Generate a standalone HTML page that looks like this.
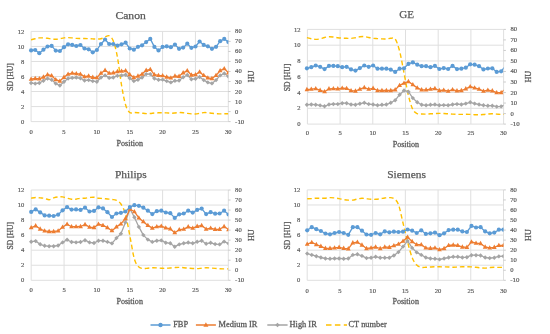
<!DOCTYPE html>
<html><head><meta charset="utf-8"><title>SD and CT number profiles</title>
<style>
html,body{margin:0;padding:0;background:#fff;}
body{width:550px;height:334px;overflow:hidden;}
svg{display:block;}
</style></head><body>
<svg width="550" height="334" viewBox="0 0 550 334">
<rect width="550" height="334" fill="#fff"/>
<clipPath id="c0"><rect x="28.1" y="27.4" width="200.2" height="98.2"/></clipPath>
<path d="M31.1,106.57H228.3M31.1,91.53H228.3M31.1,76.5H228.3M31.1,61.47H228.3M31.1,46.43H228.3M31.1,31.4H228.3M31.1,31.4V121.6M63.97,31.4V121.6M96.83,31.4V121.6M129.7,31.4V121.6M162.57,31.4V121.6M195.43,31.4V121.6M228.3,31.4V121.6" stroke="#DFDFDF" stroke-width="1" fill="none"/>
<path d="M31.1,121.6H228.3" stroke="#DFDFDF" stroke-width="1" fill="none"/>
<path d="M228.3,31.4h2.3M228.3,41.42h2.3M228.3,51.44h2.3M228.3,61.47h2.3M228.3,71.49h2.3M228.3,81.51h2.3M228.3,91.53h2.3M228.3,101.56h2.3M228.3,111.58h2.3M228.3,121.6h2.3" stroke="#BFBFBF" stroke-width="0.8" fill="none"/>
<g font-family="'Liberation Serif', 'DejaVu Serif', serif" font-size="7.1" fill="#595959" stroke="#595959" stroke-width="0.2">
<text x="24.3" y="123.7" text-anchor="end" textLength="3.3" lengthAdjust="spacingAndGlyphs">0</text>
<text x="24.3" y="108.67" text-anchor="end" textLength="3.3" lengthAdjust="spacingAndGlyphs">2</text>
<text x="24.3" y="93.63" text-anchor="end" textLength="3.3" lengthAdjust="spacingAndGlyphs">4</text>
<text x="24.3" y="78.6" text-anchor="end" textLength="3.3" lengthAdjust="spacingAndGlyphs">6</text>
<text x="24.3" y="63.57" text-anchor="end" textLength="3.3" lengthAdjust="spacingAndGlyphs">8</text>
<text x="24.3" y="48.53" text-anchor="end" textLength="6.6" lengthAdjust="spacingAndGlyphs">10</text>
<text x="24.3" y="33.5" text-anchor="end" textLength="6.6" lengthAdjust="spacingAndGlyphs">12</text>
<text x="235.1" y="33.4" textLength="6.6" lengthAdjust="spacingAndGlyphs">80</text>
<text x="235.1" y="43.42" textLength="6.6" lengthAdjust="spacingAndGlyphs">70</text>
<text x="235.1" y="53.44" textLength="6.6" lengthAdjust="spacingAndGlyphs">60</text>
<text x="235.1" y="63.47" textLength="6.6" lengthAdjust="spacingAndGlyphs">50</text>
<text x="235.1" y="73.49" textLength="6.6" lengthAdjust="spacingAndGlyphs">40</text>
<text x="235.1" y="83.51" textLength="6.6" lengthAdjust="spacingAndGlyphs">30</text>
<text x="235.1" y="93.53" textLength="6.6" lengthAdjust="spacingAndGlyphs">20</text>
<text x="235.1" y="103.56" textLength="6.6" lengthAdjust="spacingAndGlyphs">10</text>
<text x="235.1" y="113.58" textLength="3.3" lengthAdjust="spacingAndGlyphs">0</text>
<text x="235.1" y="123.6" textLength="9.2" lengthAdjust="spacingAndGlyphs">-10</text>
<text x="31.1" y="133.6" text-anchor="middle" textLength="3.3" lengthAdjust="spacingAndGlyphs">0</text>
<text x="63.97" y="133.6" text-anchor="middle" textLength="3.3" lengthAdjust="spacingAndGlyphs">5</text>
<text x="96.83" y="133.6" text-anchor="middle" textLength="6.6" lengthAdjust="spacingAndGlyphs">10</text>
<text x="129.7" y="133.6" text-anchor="middle" textLength="6.6" lengthAdjust="spacingAndGlyphs">15</text>
<text x="162.57" y="133.6" text-anchor="middle" textLength="6.6" lengthAdjust="spacingAndGlyphs">20</text>
<text x="195.43" y="133.6" text-anchor="middle" textLength="6.6" lengthAdjust="spacingAndGlyphs">25</text>
<text x="228.3" y="133.6" text-anchor="middle" textLength="6.6" lengthAdjust="spacingAndGlyphs">30</text>
</g>
<g font-family="'Liberation Serif', 'DejaVu Serif', serif" font-size="8.1" fill="#595959" stroke="#595959" stroke-width="0.28">
<text x="129.8" y="146" text-anchor="middle">Position</text>
<text transform="translate(10.3,76.5) rotate(-90)" x="-14.3" y="3.0" font-size="7.6" textLength="27.6" lengthAdjust="spacingAndGlyphs">SD [HU]</text>
<text transform="translate(251.6,76.5) rotate(-90)" x="0" y="2.8" text-anchor="middle">HU</text>
</g>
<text x="115.45" y="19.1" font-family="'Liberation Serif', 'DejaVu Serif', serif" font-size="11.2" fill="#595959" stroke="#595959" stroke-width="0.25" textLength="30.3" lengthAdjust="spacingAndGlyphs">Canon</text>
<g clip-path="url(#c0)">
<path d="M31.1,39.8C31.79,39.62 33.84,39.02 35.21,38.7C36.58,38.38 37.95,38.03 39.32,37.9C40.69,37.77 42.06,37.83 43.43,37.9C44.8,37.97 46.17,38.13 47.54,38.3C48.91,38.47 50.28,38.73 51.65,38.9C53.02,39.07 54.39,39.33 55.76,39.3C57.13,39.27 58.5,38.93 59.87,38.7C61.24,38.47 62.61,38.08 63.98,37.9C65.35,37.72 66.72,37.6 68.09,37.6C69.46,37.6 70.83,37.77 72.2,37.9C73.57,38.03 74.94,38.3 76.31,38.4C77.68,38.5 79.05,38.48 80.42,38.5C81.79,38.52 83.16,38.47 84.53,38.5C85.9,38.53 87.27,38.63 88.64,38.7C90.01,38.77 91.38,38.85 92.75,38.9C94.12,38.95 95.49,39.03 96.86,39C98.23,38.97 99.6,39.03 100.97,38.7C102.34,38.37 103.71,37.48 105.08,37C106.45,36.52 107.82,35.13 109.19,35.8C110.56,36.47 111.93,37.47 113.3,41C114.67,44.53 116.04,49.67 117.41,57C118.78,64.33 120.15,77 121.52,85C122.89,93 124.26,100.42 125.63,105C127,109.58 128.37,111.25 129.74,112.5C131.11,113.75 132.48,112.47 133.85,112.5C135.22,112.53 136.59,112.58 137.96,112.7C139.33,112.82 140.7,113.05 142.07,113.2C143.44,113.35 144.81,113.55 146.18,113.6C147.55,113.65 148.92,113.6 150.29,113.5C151.66,113.4 153.03,113.12 154.4,113C155.77,112.88 157.14,112.85 158.51,112.8C159.88,112.75 161.25,112.68 162.62,112.7C163.99,112.72 165.36,112.82 166.73,112.9C168.1,112.98 169.47,113.18 170.84,113.2C172.21,113.22 173.58,113.1 174.95,113C176.32,112.9 177.69,112.65 179.06,112.6C180.43,112.55 181.8,112.57 183.17,112.7C184.54,112.83 185.91,113.2 187.28,113.4C188.65,113.6 190.02,113.8 191.39,113.9C192.76,114 194.13,114.1 195.5,114C196.87,113.9 198.24,113.53 199.61,113.3C200.98,113.07 202.35,112.7 203.72,112.6C205.09,112.5 206.46,112.58 207.83,112.7C209.2,112.82 210.57,113.15 211.94,113.3C213.31,113.45 214.68,113.5 216.05,113.6C217.42,113.7 218.79,113.88 220.16,113.9C221.53,113.92 222.9,113.72 224.27,113.7C225.64,113.68 227.7,113.78 228.38,113.8" stroke="#FFC000" stroke-width="1.4" fill="none" stroke-dasharray="4.6 2.9"/>
<polyline points="31.1,83 35.21,83.6 39.32,83 43.43,80.8 47.54,78.5 51.65,79.8 55.76,83.6 59.87,85.5 63.98,81.7 68.09,78.5 72.2,77.9 76.31,77.5 80.42,78.3 84.53,80.5 88.64,80.1 92.75,81.1 96.86,81.7 100.97,77.5 105.08,75.4 109.19,77.9 113.3,77.5 117.41,75.7 121.52,75.4 125.63,74.7 129.74,78.3 133.85,81.1 137.96,79.8 142.07,77.5 146.18,74.1 150.29,74.1 154.4,78.5 158.51,79.8 162.62,79.6 166.73,81.1 170.84,82.4 174.95,80.8 179.06,80.5 183.17,77.3 187.28,75 191.39,79.2 195.5,78.8 199.61,77 203.72,80.1 207.83,82.4 211.94,83.4 216.05,80.1 220.16,75.4 224.27,73.5 228.38,76.6" stroke="#A5A5A5" stroke-width="1.3" fill="none" stroke-linejoin="round"/>
<g fill="#A5A5A5"><polygon points="31.1,80.8 33.3,83 31.1,85.2 28.9,83"/><polygon points="35.21,81.4 37.41,83.6 35.21,85.8 33.01,83.6"/><polygon points="39.32,80.8 41.52,83 39.32,85.2 37.12,83"/><polygon points="43.43,78.6 45.63,80.8 43.43,83 41.23,80.8"/><polygon points="47.54,76.3 49.74,78.5 47.54,80.7 45.34,78.5"/><polygon points="51.65,77.6 53.85,79.8 51.65,82 49.45,79.8"/><polygon points="55.76,81.4 57.96,83.6 55.76,85.8 53.56,83.6"/><polygon points="59.87,83.3 62.07,85.5 59.87,87.7 57.67,85.5"/><polygon points="63.98,79.5 66.18,81.7 63.98,83.9 61.78,81.7"/><polygon points="68.09,76.3 70.29,78.5 68.09,80.7 65.89,78.5"/><polygon points="72.2,75.7 74.4,77.9 72.2,80.1 70,77.9"/><polygon points="76.31,75.3 78.51,77.5 76.31,79.7 74.11,77.5"/><polygon points="80.42,76.1 82.62,78.3 80.42,80.5 78.22,78.3"/><polygon points="84.53,78.3 86.73,80.5 84.53,82.7 82.33,80.5"/><polygon points="88.64,77.9 90.84,80.1 88.64,82.3 86.44,80.1"/><polygon points="92.75,78.9 94.95,81.1 92.75,83.3 90.55,81.1"/><polygon points="96.86,79.5 99.06,81.7 96.86,83.9 94.66,81.7"/><polygon points="100.97,75.3 103.17,77.5 100.97,79.7 98.77,77.5"/><polygon points="105.08,73.2 107.28,75.4 105.08,77.6 102.88,75.4"/><polygon points="109.19,75.7 111.39,77.9 109.19,80.1 106.99,77.9"/><polygon points="113.3,75.3 115.5,77.5 113.3,79.7 111.1,77.5"/><polygon points="117.41,73.5 119.61,75.7 117.41,77.9 115.21,75.7"/><polygon points="121.52,73.2 123.72,75.4 121.52,77.6 119.32,75.4"/><polygon points="125.63,72.5 127.83,74.7 125.63,76.9 123.43,74.7"/><polygon points="129.74,76.1 131.94,78.3 129.74,80.5 127.54,78.3"/><polygon points="133.85,78.9 136.05,81.1 133.85,83.3 131.65,81.1"/><polygon points="137.96,77.6 140.16,79.8 137.96,82 135.76,79.8"/><polygon points="142.07,75.3 144.27,77.5 142.07,79.7 139.87,77.5"/><polygon points="146.18,71.9 148.38,74.1 146.18,76.3 143.98,74.1"/><polygon points="150.29,71.9 152.49,74.1 150.29,76.3 148.09,74.1"/><polygon points="154.4,76.3 156.6,78.5 154.4,80.7 152.2,78.5"/><polygon points="158.51,77.6 160.71,79.8 158.51,82 156.31,79.8"/><polygon points="162.62,77.4 164.82,79.6 162.62,81.8 160.42,79.6"/><polygon points="166.73,78.9 168.93,81.1 166.73,83.3 164.53,81.1"/><polygon points="170.84,80.2 173.04,82.4 170.84,84.6 168.64,82.4"/><polygon points="174.95,78.6 177.15,80.8 174.95,83 172.75,80.8"/><polygon points="179.06,78.3 181.26,80.5 179.06,82.7 176.86,80.5"/><polygon points="183.17,75.1 185.37,77.3 183.17,79.5 180.97,77.3"/><polygon points="187.28,72.8 189.48,75 187.28,77.2 185.08,75"/><polygon points="191.39,77 193.59,79.2 191.39,81.4 189.19,79.2"/><polygon points="195.5,76.6 197.7,78.8 195.5,81 193.3,78.8"/><polygon points="199.61,74.8 201.81,77 199.61,79.2 197.41,77"/><polygon points="203.72,77.9 205.92,80.1 203.72,82.3 201.52,80.1"/><polygon points="207.83,80.2 210.03,82.4 207.83,84.6 205.63,82.4"/><polygon points="211.94,81.2 214.14,83.4 211.94,85.6 209.74,83.4"/><polygon points="216.05,77.9 218.25,80.1 216.05,82.3 213.85,80.1"/><polygon points="220.16,73.2 222.36,75.4 220.16,77.6 217.96,75.4"/><polygon points="224.27,71.3 226.47,73.5 224.27,75.7 222.07,73.5"/><polygon points="228.38,74.4 230.58,76.6 228.38,78.8 226.18,76.6"/></g>
<polyline points="31.1,79.2 35.21,78.5 39.32,78.8 43.43,77 47.54,74.7 51.65,75.7 55.76,79.6 59.87,81.1 63.98,77.3 68.09,74.1 72.2,73.2 76.31,73.7 80.42,74.1 84.53,76.6 88.64,76 92.75,77.3 96.86,77.6 100.97,73.2 105.08,70.3 109.19,73.2 113.3,72.8 117.41,71.5 121.52,71.2 125.63,70.7 129.74,74.5 133.85,77.5 137.96,76 142.07,74.1 146.18,70.3 150.29,69.4 154.4,74.7 158.51,75.4 162.62,75.7 166.73,77 170.84,77.9 174.95,76 179.06,76.3 183.17,72.8 187.28,70.7 191.39,75 195.5,74.7 199.61,71.9 203.72,75.4 207.83,77.9 211.94,78.5 216.05,75.4 220.16,70.7 224.27,68.6 228.38,72.8" stroke="#ED7D31" stroke-width="1.3" fill="none" stroke-linejoin="round"/>
<g fill="#ED7D31"><polygon points="31.1,76.52 28.7,80.84 33.5,80.84"/><polygon points="35.21,75.82 32.81,80.14 37.61,80.14"/><polygon points="39.32,76.12 36.92,80.44 41.72,80.44"/><polygon points="43.43,74.32 41.03,78.64 45.83,78.64"/><polygon points="47.54,72.02 45.14,76.34 49.94,76.34"/><polygon points="51.65,73.02 49.25,77.34 54.05,77.34"/><polygon points="55.76,76.92 53.36,81.24 58.16,81.24"/><polygon points="59.87,78.42 57.47,82.74 62.27,82.74"/><polygon points="63.98,74.62 61.58,78.94 66.38,78.94"/><polygon points="68.09,71.42 65.69,75.74 70.49,75.74"/><polygon points="72.2,70.52 69.8,74.84 74.6,74.84"/><polygon points="76.31,71.02 73.91,75.34 78.71,75.34"/><polygon points="80.42,71.42 78.02,75.74 82.82,75.74"/><polygon points="84.53,73.92 82.13,78.24 86.93,78.24"/><polygon points="88.64,73.32 86.24,77.64 91.04,77.64"/><polygon points="92.75,74.62 90.35,78.94 95.15,78.94"/><polygon points="96.86,74.92 94.46,79.24 99.26,79.24"/><polygon points="100.97,70.52 98.57,74.84 103.37,74.84"/><polygon points="105.08,67.62 102.68,71.94 107.48,71.94"/><polygon points="109.19,70.52 106.79,74.84 111.59,74.84"/><polygon points="113.3,70.12 110.9,74.44 115.7,74.44"/><polygon points="117.41,68.82 115.01,73.14 119.81,73.14"/><polygon points="121.52,68.52 119.12,72.84 123.92,72.84"/><polygon points="125.63,68.02 123.23,72.34 128.03,72.34"/><polygon points="129.74,71.82 127.34,76.14 132.14,76.14"/><polygon points="133.85,74.82 131.45,79.14 136.25,79.14"/><polygon points="137.96,73.32 135.56,77.64 140.36,77.64"/><polygon points="142.07,71.42 139.67,75.74 144.47,75.74"/><polygon points="146.18,67.62 143.78,71.94 148.58,71.94"/><polygon points="150.29,66.72 147.89,71.04 152.69,71.04"/><polygon points="154.4,72.02 152,76.34 156.8,76.34"/><polygon points="158.51,72.72 156.11,77.04 160.91,77.04"/><polygon points="162.62,73.02 160.22,77.34 165.02,77.34"/><polygon points="166.73,74.32 164.33,78.64 169.13,78.64"/><polygon points="170.84,75.22 168.44,79.54 173.24,79.54"/><polygon points="174.95,73.32 172.55,77.64 177.35,77.64"/><polygon points="179.06,73.62 176.66,77.94 181.46,77.94"/><polygon points="183.17,70.12 180.77,74.44 185.57,74.44"/><polygon points="187.28,68.02 184.88,72.34 189.68,72.34"/><polygon points="191.39,72.32 188.99,76.64 193.79,76.64"/><polygon points="195.5,72.02 193.1,76.34 197.9,76.34"/><polygon points="199.61,69.22 197.21,73.54 202.01,73.54"/><polygon points="203.72,72.72 201.32,77.04 206.12,77.04"/><polygon points="207.83,75.22 205.43,79.54 210.23,79.54"/><polygon points="211.94,75.82 209.54,80.14 214.34,80.14"/><polygon points="216.05,72.72 213.65,77.04 218.45,77.04"/><polygon points="220.16,68.02 217.76,72.34 222.56,72.34"/><polygon points="224.27,65.92 221.87,70.24 226.67,70.24"/><polygon points="228.38,70.12 225.98,74.44 230.78,74.44"/></g>
<polyline points="31.1,50.4 35.21,50 39.32,53.2 43.43,49.7 47.54,46.5 51.65,45.9 55.76,50.6 59.87,51 63.98,47.2 68.09,44.3 72.2,44.9 76.31,46 80.42,45 84.53,48.5 88.64,49.3 92.75,52.3 96.86,50 100.97,44 105.08,39.5 109.19,44 113.3,44 117.41,45.7 121.52,44.3 125.63,42.7 129.74,48.5 133.85,49.7 137.96,46.8 142.07,45.3 146.18,42.1 150.29,38.9 154.4,46.9 158.51,50.4 162.62,46.9 166.73,46.3 170.84,47.2 174.95,44.6 179.06,48.8 183.17,47.6 187.28,43.7 191.39,47.8 195.5,46.5 199.61,41.5 203.72,44.9 207.83,46.3 211.94,48.8 216.05,46.8 220.16,41.2 224.27,38.9 228.38,42.1" stroke="#5B9BD5" stroke-width="1.3" fill="none" stroke-linejoin="round"/>
<g fill="#5B9BD5"><circle cx="31.1" cy="50.4" r="2.1"/><circle cx="35.21" cy="50" r="2.1"/><circle cx="39.32" cy="53.2" r="2.1"/><circle cx="43.43" cy="49.7" r="2.1"/><circle cx="47.54" cy="46.5" r="2.1"/><circle cx="51.65" cy="45.9" r="2.1"/><circle cx="55.76" cy="50.6" r="2.1"/><circle cx="59.87" cy="51" r="2.1"/><circle cx="63.98" cy="47.2" r="2.1"/><circle cx="68.09" cy="44.3" r="2.1"/><circle cx="72.2" cy="44.9" r="2.1"/><circle cx="76.31" cy="46" r="2.1"/><circle cx="80.42" cy="45" r="2.1"/><circle cx="84.53" cy="48.5" r="2.1"/><circle cx="88.64" cy="49.3" r="2.1"/><circle cx="92.75" cy="52.3" r="2.1"/><circle cx="96.86" cy="50" r="2.1"/><circle cx="100.97" cy="44" r="2.1"/><circle cx="105.08" cy="39.5" r="2.1"/><circle cx="109.19" cy="44" r="2.1"/><circle cx="113.3" cy="44" r="2.1"/><circle cx="117.41" cy="45.7" r="2.1"/><circle cx="121.52" cy="44.3" r="2.1"/><circle cx="125.63" cy="42.7" r="2.1"/><circle cx="129.74" cy="48.5" r="2.1"/><circle cx="133.85" cy="49.7" r="2.1"/><circle cx="137.96" cy="46.8" r="2.1"/><circle cx="142.07" cy="45.3" r="2.1"/><circle cx="146.18" cy="42.1" r="2.1"/><circle cx="150.29" cy="38.9" r="2.1"/><circle cx="154.4" cy="46.9" r="2.1"/><circle cx="158.51" cy="50.4" r="2.1"/><circle cx="162.62" cy="46.9" r="2.1"/><circle cx="166.73" cy="46.3" r="2.1"/><circle cx="170.84" cy="47.2" r="2.1"/><circle cx="174.95" cy="44.6" r="2.1"/><circle cx="179.06" cy="48.8" r="2.1"/><circle cx="183.17" cy="47.6" r="2.1"/><circle cx="187.28" cy="43.7" r="2.1"/><circle cx="191.39" cy="47.8" r="2.1"/><circle cx="195.5" cy="46.5" r="2.1"/><circle cx="199.61" cy="41.5" r="2.1"/><circle cx="203.72" cy="44.9" r="2.1"/><circle cx="207.83" cy="46.3" r="2.1"/><circle cx="211.94" cy="48.8" r="2.1"/><circle cx="216.05" cy="46.8" r="2.1"/><circle cx="220.16" cy="41.2" r="2.1"/><circle cx="224.27" cy="38.9" r="2.1"/><circle cx="228.38" cy="42.1" r="2.1"/></g>
</g>
<clipPath id="c1"><rect x="304.4" y="25.4" width="199.2" height="102.7"/></clipPath>
<path d="M307.4,108.32H503.6M307.4,92.53H503.6M307.4,76.75H503.6M307.4,60.97H503.6M307.4,45.18H503.6M307.4,29.4H503.6M307.4,29.4V124.1M340.1,29.4V124.1M372.8,29.4V124.1M405.5,29.4V124.1M438.2,29.4V124.1M470.9,29.4V124.1M503.6,29.4V124.1" stroke="#DFDFDF" stroke-width="1" fill="none"/>
<path d="M307.4,124.1H503.6" stroke="#DFDFDF" stroke-width="1" fill="none"/>
<path d="M503.6,29.4h2.3M503.6,39.92h2.3M503.6,50.44h2.3M503.6,60.97h2.3M503.6,71.49h2.3M503.6,82.01h2.3M503.6,92.53h2.3M503.6,103.06h2.3M503.6,113.58h2.3M503.6,124.1h2.3" stroke="#BFBFBF" stroke-width="0.8" fill="none"/>
<g font-family="'Liberation Serif', 'DejaVu Serif', serif" font-size="7.1" fill="#595959" stroke="#595959" stroke-width="0.2">
<text x="300.6" y="126.2" text-anchor="end" textLength="3.3" lengthAdjust="spacingAndGlyphs">0</text>
<text x="300.6" y="110.42" text-anchor="end" textLength="3.3" lengthAdjust="spacingAndGlyphs">2</text>
<text x="300.6" y="94.63" text-anchor="end" textLength="3.3" lengthAdjust="spacingAndGlyphs">4</text>
<text x="300.6" y="78.85" text-anchor="end" textLength="3.3" lengthAdjust="spacingAndGlyphs">6</text>
<text x="300.6" y="63.07" text-anchor="end" textLength="3.3" lengthAdjust="spacingAndGlyphs">8</text>
<text x="300.6" y="47.28" text-anchor="end" textLength="6.6" lengthAdjust="spacingAndGlyphs">10</text>
<text x="300.6" y="31.5" text-anchor="end" textLength="6.6" lengthAdjust="spacingAndGlyphs">12</text>
<text x="510.4" y="31.4" textLength="6.6" lengthAdjust="spacingAndGlyphs">80</text>
<text x="510.4" y="41.92" textLength="6.6" lengthAdjust="spacingAndGlyphs">70</text>
<text x="510.4" y="52.44" textLength="6.6" lengthAdjust="spacingAndGlyphs">60</text>
<text x="510.4" y="62.97" textLength="6.6" lengthAdjust="spacingAndGlyphs">50</text>
<text x="510.4" y="73.49" textLength="6.6" lengthAdjust="spacingAndGlyphs">40</text>
<text x="510.4" y="84.01" textLength="6.6" lengthAdjust="spacingAndGlyphs">30</text>
<text x="510.4" y="94.53" textLength="6.6" lengthAdjust="spacingAndGlyphs">20</text>
<text x="510.4" y="105.06" textLength="6.6" lengthAdjust="spacingAndGlyphs">10</text>
<text x="510.4" y="115.58" textLength="3.3" lengthAdjust="spacingAndGlyphs">0</text>
<text x="510.4" y="126.1" textLength="9.2" lengthAdjust="spacingAndGlyphs">-10</text>
<text x="307.4" y="135.3" text-anchor="middle" textLength="3.3" lengthAdjust="spacingAndGlyphs">0</text>
<text x="340.1" y="135.3" text-anchor="middle" textLength="3.3" lengthAdjust="spacingAndGlyphs">5</text>
<text x="372.8" y="135.3" text-anchor="middle" textLength="6.6" lengthAdjust="spacingAndGlyphs">10</text>
<text x="405.5" y="135.3" text-anchor="middle" textLength="6.6" lengthAdjust="spacingAndGlyphs">15</text>
<text x="438.2" y="135.3" text-anchor="middle" textLength="6.6" lengthAdjust="spacingAndGlyphs">20</text>
<text x="470.9" y="135.3" text-anchor="middle" textLength="6.6" lengthAdjust="spacingAndGlyphs">25</text>
<text x="503.6" y="135.3" text-anchor="middle" textLength="6.6" lengthAdjust="spacingAndGlyphs">30</text>
</g>
<g font-family="'Liberation Serif', 'DejaVu Serif', serif" font-size="8.1" fill="#595959" stroke="#595959" stroke-width="0.28">
<text x="405.9" y="147.3" text-anchor="middle">Position</text>
<text transform="translate(286.5,77) rotate(-90)" x="-14.3" y="3.0" font-size="7.6" textLength="27.6" lengthAdjust="spacingAndGlyphs">SD [HU]</text>
<text transform="translate(528,76.7) rotate(-90)" x="0" y="2.8" text-anchor="middle">HU</text>
</g>
<text x="399.3" y="17.8" font-family="'Liberation Serif', 'DejaVu Serif', serif" font-size="11.2" fill="#595959" stroke="#595959" stroke-width="0.25" textLength="14.8" lengthAdjust="spacingAndGlyphs">GE</text>
<g clip-path="url(#c1)">
<path d="M306.9,37.6C307.64,37.8 309.84,38.5 311.31,38.8C312.79,39.1 314.26,39.4 315.73,39.4C317.2,39.4 318.67,39.12 320.14,38.8C321.61,38.48 323.08,37.85 324.56,37.5C326.03,37.15 327.5,36.78 328.97,36.7C330.44,36.62 331.91,36.82 333.38,37C334.86,37.18 336.33,37.62 337.8,37.8C339.27,37.98 340.74,38.02 342.21,38.1C343.68,38.18 345.15,38.25 346.63,38.3C348.1,38.35 349.57,38.5 351.04,38.4C352.51,38.3 353.98,37.97 355.45,37.7C356.93,37.43 358.4,36.98 359.87,36.8C361.34,36.62 362.81,36.48 364.28,36.6C365.75,36.72 367.22,37.22 368.7,37.5C370.17,37.78 371.64,38.12 373.11,38.3C374.58,38.48 376.05,38.5 377.52,38.6C379,38.7 380.47,38.85 381.94,38.9C383.41,38.95 384.88,39 386.35,38.9C387.82,38.8 389.29,38.28 390.77,38.3C392.24,38.32 393.71,36.88 395.18,39C396.65,41.12 398.12,45.33 399.59,51C401.07,56.67 402.54,65.58 404.01,73C405.48,80.42 406.95,89.42 408.42,95.5C409.89,101.58 411.36,106.48 412.84,109.5C414.31,112.52 415.78,112.85 417.25,113.6C418.72,114.35 420.19,113.92 421.66,114C423.14,114.08 424.61,114.13 426.08,114.1C427.55,114.07 429.02,113.88 430.49,113.8C431.96,113.72 433.43,113.67 434.91,113.6C436.38,113.53 437.85,113.42 439.32,113.4C440.79,113.38 442.26,113.43 443.73,113.5C445.21,113.57 446.68,113.7 448.15,113.8C449.62,113.9 451.09,114.02 452.56,114.1C454.03,114.18 455.5,114.25 456.98,114.3C458.45,114.35 459.92,114.42 461.39,114.4C462.86,114.38 464.33,114.2 465.8,114.2C467.28,114.2 468.75,114.32 470.22,114.4C471.69,114.48 473.16,114.63 474.63,114.7C476.1,114.77 477.57,114.83 479.05,114.8C480.52,114.77 481.99,114.63 483.46,114.5C484.93,114.37 486.4,114.12 487.87,114C489.35,113.88 490.82,113.78 492.29,113.8C493.76,113.82 495.23,114 496.7,114.1C498.17,114.2 499.64,114.37 501.12,114.4C502.59,114.43 504.79,114.32 505.53,114.3" stroke="#FFC000" stroke-width="1.4" fill="none" stroke-dasharray="4.6 2.9"/>
<polyline points="306.9,104.7 311.31,104.5 315.73,104.7 320.14,105.4 324.56,106.3 328.97,104.5 333.38,104.1 337.8,104.1 342.21,103.2 346.63,103.2 351.04,104.5 355.45,104.7 359.87,103.7 364.28,102.8 368.7,104.1 373.11,104.5 377.52,105.3 381.94,104.8 386.35,104.5 390.77,102.8 395.18,100.3 399.59,94.7 404.01,90.5 408.42,91.7 412.84,98.1 417.25,102.3 421.66,104.8 426.08,105.3 430.49,104.8 434.91,104.5 439.32,105.3 443.73,105.1 448.15,105.3 452.56,104.5 456.98,104.1 461.39,104.5 465.8,103.6 470.22,102.3 474.63,103.6 479.05,104.5 483.46,105.3 487.87,105.7 492.29,105.7 496.7,106.6 501.12,106.4 505.53,104.5" stroke="#A5A5A5" stroke-width="1.3" fill="none" stroke-linejoin="round"/>
<g fill="#A5A5A5"><polygon points="306.9,102.5 309.1,104.7 306.9,106.9 304.7,104.7"/><polygon points="311.31,102.3 313.51,104.5 311.31,106.7 309.11,104.5"/><polygon points="315.73,102.5 317.93,104.7 315.73,106.9 313.53,104.7"/><polygon points="320.14,103.2 322.34,105.4 320.14,107.6 317.94,105.4"/><polygon points="324.56,104.1 326.76,106.3 324.56,108.5 322.36,106.3"/><polygon points="328.97,102.3 331.17,104.5 328.97,106.7 326.77,104.5"/><polygon points="333.38,101.9 335.58,104.1 333.38,106.3 331.18,104.1"/><polygon points="337.8,101.9 340,104.1 337.8,106.3 335.6,104.1"/><polygon points="342.21,101 344.41,103.2 342.21,105.4 340.01,103.2"/><polygon points="346.63,101 348.83,103.2 346.63,105.4 344.43,103.2"/><polygon points="351.04,102.3 353.24,104.5 351.04,106.7 348.84,104.5"/><polygon points="355.45,102.5 357.65,104.7 355.45,106.9 353.25,104.7"/><polygon points="359.87,101.5 362.07,103.7 359.87,105.9 357.67,103.7"/><polygon points="364.28,100.6 366.48,102.8 364.28,105 362.08,102.8"/><polygon points="368.7,101.9 370.9,104.1 368.7,106.3 366.5,104.1"/><polygon points="373.11,102.3 375.31,104.5 373.11,106.7 370.91,104.5"/><polygon points="377.52,103.1 379.72,105.3 377.52,107.5 375.32,105.3"/><polygon points="381.94,102.6 384.14,104.8 381.94,107 379.74,104.8"/><polygon points="386.35,102.3 388.55,104.5 386.35,106.7 384.15,104.5"/><polygon points="390.77,100.6 392.97,102.8 390.77,105 388.57,102.8"/><polygon points="395.18,98.1 397.38,100.3 395.18,102.5 392.98,100.3"/><polygon points="399.59,92.5 401.79,94.7 399.59,96.9 397.39,94.7"/><polygon points="404.01,88.3 406.21,90.5 404.01,92.7 401.81,90.5"/><polygon points="408.42,89.5 410.62,91.7 408.42,93.9 406.22,91.7"/><polygon points="412.84,95.9 415.04,98.1 412.84,100.3 410.64,98.1"/><polygon points="417.25,100.1 419.45,102.3 417.25,104.5 415.05,102.3"/><polygon points="421.66,102.6 423.86,104.8 421.66,107 419.46,104.8"/><polygon points="426.08,103.1 428.28,105.3 426.08,107.5 423.88,105.3"/><polygon points="430.49,102.6 432.69,104.8 430.49,107 428.29,104.8"/><polygon points="434.91,102.3 437.11,104.5 434.91,106.7 432.71,104.5"/><polygon points="439.32,103.1 441.52,105.3 439.32,107.5 437.12,105.3"/><polygon points="443.73,102.9 445.93,105.1 443.73,107.3 441.53,105.1"/><polygon points="448.15,103.1 450.35,105.3 448.15,107.5 445.95,105.3"/><polygon points="452.56,102.3 454.76,104.5 452.56,106.7 450.36,104.5"/><polygon points="456.98,101.9 459.18,104.1 456.98,106.3 454.78,104.1"/><polygon points="461.39,102.3 463.59,104.5 461.39,106.7 459.19,104.5"/><polygon points="465.8,101.4 468,103.6 465.8,105.8 463.6,103.6"/><polygon points="470.22,100.1 472.42,102.3 470.22,104.5 468.02,102.3"/><polygon points="474.63,101.4 476.83,103.6 474.63,105.8 472.43,103.6"/><polygon points="479.05,102.3 481.25,104.5 479.05,106.7 476.85,104.5"/><polygon points="483.46,103.1 485.66,105.3 483.46,107.5 481.26,105.3"/><polygon points="487.87,103.5 490.07,105.7 487.87,107.9 485.67,105.7"/><polygon points="492.29,103.5 494.49,105.7 492.29,107.9 490.09,105.7"/><polygon points="496.7,104.4 498.9,106.6 496.7,108.8 494.5,106.6"/><polygon points="501.12,104.2 503.32,106.4 501.12,108.6 498.92,106.4"/></g>
<polyline points="306.9,89.5 311.31,89.2 315.73,88.6 320.14,90.3 324.56,91.7 328.97,88.8 333.38,88.6 337.8,88.8 342.21,88.2 346.63,88.4 351.04,90.7 355.45,91 359.87,89.2 364.28,87.5 368.7,89.2 373.11,88.3 377.52,90.5 381.94,90.5 386.35,90.5 390.77,90.5 395.18,89.8 399.59,85.4 404.01,83.2 408.42,81.5 412.84,84.7 417.25,87.9 421.66,89.8 426.08,89.8 430.49,89.2 434.91,88.5 439.32,90.5 443.73,90.1 448.15,91.1 452.56,89.6 456.98,90.8 461.39,90.5 465.8,88.8 470.22,86.6 474.63,87.9 479.05,89.2 483.46,91.1 487.87,90.1 492.29,90.8 496.7,92.6 501.12,92.6 505.53,89" stroke="#ED7D31" stroke-width="1.3" fill="none" stroke-linejoin="round"/>
<g fill="#ED7D31"><polygon points="306.9,86.82 304.5,91.14 309.3,91.14"/><polygon points="311.31,86.52 308.91,90.84 313.71,90.84"/><polygon points="315.73,85.92 313.33,90.24 318.13,90.24"/><polygon points="320.14,87.62 317.74,91.94 322.54,91.94"/><polygon points="324.56,89.02 322.16,93.34 326.96,93.34"/><polygon points="328.97,86.12 326.57,90.44 331.37,90.44"/><polygon points="333.38,85.92 330.98,90.24 335.78,90.24"/><polygon points="337.8,86.12 335.4,90.44 340.2,90.44"/><polygon points="342.21,85.52 339.81,89.84 344.61,89.84"/><polygon points="346.63,85.72 344.23,90.04 349.03,90.04"/><polygon points="351.04,88.02 348.64,92.34 353.44,92.34"/><polygon points="355.45,88.32 353.05,92.64 357.85,92.64"/><polygon points="359.87,86.52 357.47,90.84 362.27,90.84"/><polygon points="364.28,84.82 361.88,89.14 366.68,89.14"/><polygon points="368.7,86.52 366.3,90.84 371.1,90.84"/><polygon points="373.11,85.62 370.71,89.94 375.51,89.94"/><polygon points="377.52,87.82 375.12,92.14 379.92,92.14"/><polygon points="381.94,87.82 379.54,92.14 384.34,92.14"/><polygon points="386.35,87.82 383.95,92.14 388.75,92.14"/><polygon points="390.77,87.82 388.37,92.14 393.17,92.14"/><polygon points="395.18,87.12 392.78,91.44 397.58,91.44"/><polygon points="399.59,82.72 397.19,87.04 401.99,87.04"/><polygon points="404.01,80.52 401.61,84.84 406.41,84.84"/><polygon points="408.42,78.82 406.02,83.14 410.82,83.14"/><polygon points="412.84,82.02 410.44,86.34 415.24,86.34"/><polygon points="417.25,85.22 414.85,89.54 419.65,89.54"/><polygon points="421.66,87.12 419.26,91.44 424.06,91.44"/><polygon points="426.08,87.12 423.68,91.44 428.48,91.44"/><polygon points="430.49,86.52 428.09,90.84 432.89,90.84"/><polygon points="434.91,85.82 432.51,90.14 437.31,90.14"/><polygon points="439.32,87.82 436.92,92.14 441.72,92.14"/><polygon points="443.73,87.42 441.33,91.74 446.13,91.74"/><polygon points="448.15,88.42 445.75,92.74 450.55,92.74"/><polygon points="452.56,86.92 450.16,91.24 454.96,91.24"/><polygon points="456.98,88.12 454.58,92.44 459.38,92.44"/><polygon points="461.39,87.82 458.99,92.14 463.79,92.14"/><polygon points="465.8,86.12 463.4,90.44 468.2,90.44"/><polygon points="470.22,83.92 467.82,88.24 472.62,88.24"/><polygon points="474.63,85.22 472.23,89.54 477.03,89.54"/><polygon points="479.05,86.52 476.65,90.84 481.45,90.84"/><polygon points="483.46,88.42 481.06,92.74 485.86,92.74"/><polygon points="487.87,87.42 485.47,91.74 490.27,91.74"/><polygon points="492.29,88.12 489.89,92.44 494.69,92.44"/><polygon points="496.7,89.92 494.3,94.24 499.1,94.24"/><polygon points="501.12,89.92 498.72,94.24 503.52,94.24"/></g>
<polyline points="306.9,68.3 311.31,67.2 315.73,65.5 320.14,66.8 324.56,69.1 328.97,65.9 333.38,65.9 337.8,66.2 342.21,67.2 346.63,66.8 351.04,69.4 355.45,70.6 359.87,68.1 364.28,65.5 368.7,66.8 373.11,65.5 377.52,68.7 381.94,68.7 386.35,68.7 390.77,69.7 395.18,71.9 399.59,68.7 404.01,68.3 408.42,63.9 412.84,62.4 417.25,64.7 421.66,66.2 426.08,66.2 430.49,67.2 434.91,65.9 439.32,69 443.73,68.1 448.15,69 452.56,65.9 456.98,69.1 461.39,68.7 465.8,67.7 470.22,64.3 474.63,64.7 479.05,66.2 483.46,69.4 487.87,68.5 492.29,68.3 496.7,71.9 501.12,71.3 505.53,66" stroke="#5B9BD5" stroke-width="1.3" fill="none" stroke-linejoin="round"/>
<g fill="#5B9BD5"><circle cx="306.9" cy="68.3" r="2.1"/><circle cx="311.31" cy="67.2" r="2.1"/><circle cx="315.73" cy="65.5" r="2.1"/><circle cx="320.14" cy="66.8" r="2.1"/><circle cx="324.56" cy="69.1" r="2.1"/><circle cx="328.97" cy="65.9" r="2.1"/><circle cx="333.38" cy="65.9" r="2.1"/><circle cx="337.8" cy="66.2" r="2.1"/><circle cx="342.21" cy="67.2" r="2.1"/><circle cx="346.63" cy="66.8" r="2.1"/><circle cx="351.04" cy="69.4" r="2.1"/><circle cx="355.45" cy="70.6" r="2.1"/><circle cx="359.87" cy="68.1" r="2.1"/><circle cx="364.28" cy="65.5" r="2.1"/><circle cx="368.7" cy="66.8" r="2.1"/><circle cx="373.11" cy="65.5" r="2.1"/><circle cx="377.52" cy="68.7" r="2.1"/><circle cx="381.94" cy="68.7" r="2.1"/><circle cx="386.35" cy="68.7" r="2.1"/><circle cx="390.77" cy="69.7" r="2.1"/><circle cx="395.18" cy="71.9" r="2.1"/><circle cx="399.59" cy="68.7" r="2.1"/><circle cx="404.01" cy="68.3" r="2.1"/><circle cx="408.42" cy="63.9" r="2.1"/><circle cx="412.84" cy="62.4" r="2.1"/><circle cx="417.25" cy="64.7" r="2.1"/><circle cx="421.66" cy="66.2" r="2.1"/><circle cx="426.08" cy="66.2" r="2.1"/><circle cx="430.49" cy="67.2" r="2.1"/><circle cx="434.91" cy="65.9" r="2.1"/><circle cx="439.32" cy="69" r="2.1"/><circle cx="443.73" cy="68.1" r="2.1"/><circle cx="448.15" cy="69" r="2.1"/><circle cx="452.56" cy="65.9" r="2.1"/><circle cx="456.98" cy="69.1" r="2.1"/><circle cx="461.39" cy="68.7" r="2.1"/><circle cx="465.8" cy="67.7" r="2.1"/><circle cx="470.22" cy="64.3" r="2.1"/><circle cx="474.63" cy="64.7" r="2.1"/><circle cx="479.05" cy="66.2" r="2.1"/><circle cx="483.46" cy="69.4" r="2.1"/><circle cx="487.87" cy="68.5" r="2.1"/><circle cx="492.29" cy="68.3" r="2.1"/><circle cx="496.7" cy="71.9" r="2.1"/><circle cx="501.12" cy="71.3" r="2.1"/></g>
</g>
<clipPath id="c2"><rect x="28.2" y="186" width="200.1" height="98.3"/></clipPath>
<path d="M31.2,265.25H228.3M31.2,250.2H228.3M31.2,235.15H228.3M31.2,220.1H228.3M31.2,205.05H228.3M31.2,190H228.3M31.2,190V280.3M64.05,190V280.3M96.9,190V280.3M129.75,190V280.3M162.6,190V280.3M195.45,190V280.3M228.3,190V280.3" stroke="#DFDFDF" stroke-width="1" fill="none"/>
<path d="M31.2,280.3H228.3" stroke="#DFDFDF" stroke-width="1" fill="none"/>
<path d="M228.3,190h2.3M228.3,200.03h2.3M228.3,210.07h2.3M228.3,220.1h2.3M228.3,230.13h2.3M228.3,240.17h2.3M228.3,250.2h2.3M228.3,260.23h2.3M228.3,270.27h2.3M228.3,280.3h2.3" stroke="#BFBFBF" stroke-width="0.8" fill="none"/>
<g font-family="'Liberation Serif', 'DejaVu Serif', serif" font-size="7.1" fill="#595959" stroke="#595959" stroke-width="0.2">
<text x="24.4" y="282.4" text-anchor="end" textLength="3.3" lengthAdjust="spacingAndGlyphs">0</text>
<text x="24.4" y="267.35" text-anchor="end" textLength="3.3" lengthAdjust="spacingAndGlyphs">2</text>
<text x="24.4" y="252.3" text-anchor="end" textLength="3.3" lengthAdjust="spacingAndGlyphs">4</text>
<text x="24.4" y="237.25" text-anchor="end" textLength="3.3" lengthAdjust="spacingAndGlyphs">6</text>
<text x="24.4" y="222.2" text-anchor="end" textLength="3.3" lengthAdjust="spacingAndGlyphs">8</text>
<text x="24.4" y="207.15" text-anchor="end" textLength="6.6" lengthAdjust="spacingAndGlyphs">10</text>
<text x="24.4" y="192.1" text-anchor="end" textLength="6.6" lengthAdjust="spacingAndGlyphs">12</text>
<text x="235.1" y="192" textLength="6.6" lengthAdjust="spacingAndGlyphs">80</text>
<text x="235.1" y="202.03" textLength="6.6" lengthAdjust="spacingAndGlyphs">70</text>
<text x="235.1" y="212.07" textLength="6.6" lengthAdjust="spacingAndGlyphs">60</text>
<text x="235.1" y="222.1" textLength="6.6" lengthAdjust="spacingAndGlyphs">50</text>
<text x="235.1" y="232.13" textLength="6.6" lengthAdjust="spacingAndGlyphs">40</text>
<text x="235.1" y="242.17" textLength="6.6" lengthAdjust="spacingAndGlyphs">30</text>
<text x="235.1" y="252.2" textLength="6.6" lengthAdjust="spacingAndGlyphs">20</text>
<text x="235.1" y="262.23" textLength="6.6" lengthAdjust="spacingAndGlyphs">10</text>
<text x="235.1" y="272.27" textLength="3.3" lengthAdjust="spacingAndGlyphs">0</text>
<text x="235.1" y="282.3" textLength="9.2" lengthAdjust="spacingAndGlyphs">-10</text>
<text x="31.2" y="292.3" text-anchor="middle" textLength="3.3" lengthAdjust="spacingAndGlyphs">0</text>
<text x="64.05" y="292.3" text-anchor="middle" textLength="3.3" lengthAdjust="spacingAndGlyphs">5</text>
<text x="96.9" y="292.3" text-anchor="middle" textLength="6.6" lengthAdjust="spacingAndGlyphs">10</text>
<text x="129.75" y="292.3" text-anchor="middle" textLength="6.6" lengthAdjust="spacingAndGlyphs">15</text>
<text x="162.6" y="292.3" text-anchor="middle" textLength="6.6" lengthAdjust="spacingAndGlyphs">20</text>
<text x="195.45" y="292.3" text-anchor="middle" textLength="6.6" lengthAdjust="spacingAndGlyphs">25</text>
<text x="228.3" y="292.3" text-anchor="middle" textLength="6.6" lengthAdjust="spacingAndGlyphs">30</text>
</g>
<g font-family="'Liberation Serif', 'DejaVu Serif', serif" font-size="8.1" fill="#595959" stroke="#595959" stroke-width="0.28">
<text x="129.7" y="304.4" text-anchor="middle">Position</text>
<text transform="translate(10.3,235.2) rotate(-90)" x="-14.3" y="3.0" font-size="7.6" textLength="27.6" lengthAdjust="spacingAndGlyphs">SD [HU]</text>
<text transform="translate(251.6,235.2) rotate(-90)" x="0" y="2.8" text-anchor="middle">HU</text>
</g>
<text x="115" y="177.6" font-family="'Liberation Serif', 'DejaVu Serif', serif" font-size="11.2" fill="#595959" stroke="#595959" stroke-width="0.25" textLength="31.8" lengthAdjust="spacingAndGlyphs">Philips</text>
<g clip-path="url(#c2)">
<path d="M31.2,198.2C31.95,198.08 34.19,197.55 35.69,197.5C37.18,197.45 38.68,197.75 40.17,197.9C41.67,198.05 43.16,198.1 44.66,198.4C46.15,198.7 47.65,199.78 49.14,199.7C50.64,199.62 52.13,198.37 53.63,197.9C55.13,197.43 56.62,197.07 58.12,196.9C59.61,196.73 61.11,196.68 62.6,196.9C64.1,197.12 65.59,197.82 67.09,198.2C68.58,198.58 70.08,199.03 71.57,199.2C73.07,199.37 74.56,199.37 76.06,199.2C77.56,199.03 79.05,198.37 80.55,198.2C82.04,198.03 83.54,198.32 85.03,198.2C86.53,198.08 88.02,197.67 89.52,197.5C91.01,197.33 92.51,197.08 94,197.2C95.5,197.32 96.99,197.98 98.49,198.2C99.99,198.42 101.48,198.37 102.98,198.5C104.47,198.63 105.97,198.83 107.46,199C108.96,199.17 110.45,199.28 111.95,199.5C113.44,199.72 114.94,199.55 116.43,200.3C117.93,201.05 119.42,201.72 120.92,204C122.42,206.28 123.91,208.67 125.41,214C126.9,219.33 128.4,228.5 129.89,236C131.39,243.5 132.88,253.83 134.38,259C135.87,264.17 137.37,265.42 138.86,267C140.36,268.58 141.85,268.3 143.35,268.5C144.85,268.7 146.34,268.32 147.84,268.2C149.33,268.08 150.83,267.85 152.32,267.8C153.82,267.75 155.31,267.83 156.81,267.9C158.3,267.97 159.8,268.12 161.29,268.2C162.79,268.28 164.28,268.43 165.78,268.4C167.28,268.37 168.77,268.13 170.27,268C171.76,267.87 173.26,267.7 174.75,267.6C176.25,267.5 177.74,267.38 179.24,267.4C180.73,267.42 182.23,267.57 183.72,267.7C185.22,267.83 186.71,268.07 188.21,268.2C189.71,268.33 191.2,268.43 192.7,268.5C194.19,268.57 195.69,268.65 197.18,268.6C198.68,268.55 200.17,268.33 201.67,268.2C203.16,268.07 204.66,267.83 206.15,267.8C207.65,267.77 209.14,267.9 210.64,268C212.14,268.1 213.63,268.27 215.13,268.4C216.62,268.53 218.12,268.72 219.61,268.8C221.11,268.88 222.6,268.88 224.1,268.9C225.59,268.92 227.84,268.9 228.58,268.9" stroke="#FFC000" stroke-width="1.4" fill="none" stroke-dasharray="4.6 2.9"/>
<polyline points="31.2,241.7 35.69,241.1 40.17,244.3 44.66,245.8 49.14,246.2 53.63,246.2 58.12,245.5 62.6,242.4 67.09,239.8 71.57,242 76.06,242.4 80.55,242 85.03,240.2 89.52,242.4 94,243 98.49,240.7 102.98,240.7 107.46,241.9 111.95,243.4 116.43,238.1 120.92,233.7 125.41,222.4 129.89,208.7 134.38,217.2 138.86,226.9 143.35,235.1 147.84,239.6 152.32,241.9 156.81,240.7 161.29,240.4 165.78,242.7 170.27,243.3 174.75,246.7 179.24,244.4 183.72,243.3 188.21,242.5 192.7,243.3 197.18,241.8 201.67,240.8 206.15,243.7 210.64,242.8 215.13,244.1 219.61,244.4 224.1,241.6 228.58,243.5" stroke="#A5A5A5" stroke-width="1.3" fill="none" stroke-linejoin="round"/>
<g fill="#A5A5A5"><polygon points="31.2,239.5 33.4,241.7 31.2,243.9 29,241.7"/><polygon points="35.69,238.9 37.89,241.1 35.69,243.3 33.49,241.1"/><polygon points="40.17,242.1 42.37,244.3 40.17,246.5 37.97,244.3"/><polygon points="44.66,243.6 46.86,245.8 44.66,248 42.46,245.8"/><polygon points="49.14,244 51.34,246.2 49.14,248.4 46.94,246.2"/><polygon points="53.63,244 55.83,246.2 53.63,248.4 51.43,246.2"/><polygon points="58.12,243.3 60.32,245.5 58.12,247.7 55.92,245.5"/><polygon points="62.6,240.2 64.8,242.4 62.6,244.6 60.4,242.4"/><polygon points="67.09,237.6 69.29,239.8 67.09,242 64.89,239.8"/><polygon points="71.57,239.8 73.77,242 71.57,244.2 69.37,242"/><polygon points="76.06,240.2 78.26,242.4 76.06,244.6 73.86,242.4"/><polygon points="80.55,239.8 82.75,242 80.55,244.2 78.35,242"/><polygon points="85.03,238 87.23,240.2 85.03,242.4 82.83,240.2"/><polygon points="89.52,240.2 91.72,242.4 89.52,244.6 87.32,242.4"/><polygon points="94,240.8 96.2,243 94,245.2 91.8,243"/><polygon points="98.49,238.5 100.69,240.7 98.49,242.9 96.29,240.7"/><polygon points="102.98,238.5 105.18,240.7 102.98,242.9 100.78,240.7"/><polygon points="107.46,239.7 109.66,241.9 107.46,244.1 105.26,241.9"/><polygon points="111.95,241.2 114.15,243.4 111.95,245.6 109.75,243.4"/><polygon points="116.43,235.9 118.63,238.1 116.43,240.3 114.23,238.1"/><polygon points="120.92,231.5 123.12,233.7 120.92,235.9 118.72,233.7"/><polygon points="125.41,220.2 127.61,222.4 125.41,224.6 123.21,222.4"/><polygon points="129.89,206.5 132.09,208.7 129.89,210.9 127.69,208.7"/><polygon points="134.38,215 136.58,217.2 134.38,219.4 132.18,217.2"/><polygon points="138.86,224.7 141.06,226.9 138.86,229.1 136.66,226.9"/><polygon points="143.35,232.9 145.55,235.1 143.35,237.3 141.15,235.1"/><polygon points="147.84,237.4 150.04,239.6 147.84,241.8 145.64,239.6"/><polygon points="152.32,239.7 154.52,241.9 152.32,244.1 150.12,241.9"/><polygon points="156.81,238.5 159.01,240.7 156.81,242.9 154.61,240.7"/><polygon points="161.29,238.2 163.49,240.4 161.29,242.6 159.09,240.4"/><polygon points="165.78,240.5 167.98,242.7 165.78,244.9 163.58,242.7"/><polygon points="170.27,241.1 172.47,243.3 170.27,245.5 168.07,243.3"/><polygon points="174.75,244.5 176.95,246.7 174.75,248.9 172.55,246.7"/><polygon points="179.24,242.2 181.44,244.4 179.24,246.6 177.04,244.4"/><polygon points="183.72,241.1 185.92,243.3 183.72,245.5 181.52,243.3"/><polygon points="188.21,240.3 190.41,242.5 188.21,244.7 186.01,242.5"/><polygon points="192.7,241.1 194.9,243.3 192.7,245.5 190.5,243.3"/><polygon points="197.18,239.6 199.38,241.8 197.18,244 194.98,241.8"/><polygon points="201.67,238.6 203.87,240.8 201.67,243 199.47,240.8"/><polygon points="206.15,241.5 208.35,243.7 206.15,245.9 203.95,243.7"/><polygon points="210.64,240.6 212.84,242.8 210.64,245 208.44,242.8"/><polygon points="215.13,241.9 217.33,244.1 215.13,246.3 212.93,244.1"/><polygon points="219.61,242.2 221.81,244.4 219.61,246.6 217.41,244.4"/><polygon points="224.1,239.4 226.3,241.6 224.1,243.8 221.9,241.6"/><polygon points="228.58,241.3 230.78,243.5 228.58,245.7 226.38,243.5"/></g>
<polyline points="31.2,227.7 35.69,225.8 40.17,229 44.66,230.9 49.14,231.5 53.63,231.5 58.12,230.9 62.6,227.1 67.09,224.2 71.57,226.7 76.06,226.7 80.55,226.5 85.03,224.5 89.52,227.1 94,227.5 98.49,224.2 102.98,225.4 107.46,227.7 111.95,230.7 116.43,226.9 120.92,223.9 125.41,218.7 129.89,209 134.38,211.7 138.86,217.9 143.35,221.7 147.84,225.4 152.32,228.1 156.81,226.6 161.29,226.2 165.78,227.9 170.27,228.8 174.75,232.7 179.24,229.7 183.72,229.1 188.21,226.8 192.7,228.1 197.18,226.3 201.67,225.5 206.15,229.1 210.64,228.1 215.13,229.3 219.61,229.3 224.1,226.5 228.58,229.5" stroke="#ED7D31" stroke-width="1.3" fill="none" stroke-linejoin="round"/>
<g fill="#ED7D31"><polygon points="31.2,225.02 28.8,229.34 33.6,229.34"/><polygon points="35.69,223.12 33.29,227.44 38.09,227.44"/><polygon points="40.17,226.32 37.77,230.64 42.57,230.64"/><polygon points="44.66,228.22 42.26,232.54 47.06,232.54"/><polygon points="49.14,228.82 46.74,233.14 51.54,233.14"/><polygon points="53.63,228.82 51.23,233.14 56.03,233.14"/><polygon points="58.12,228.22 55.72,232.54 60.52,232.54"/><polygon points="62.6,224.42 60.2,228.74 65,228.74"/><polygon points="67.09,221.52 64.69,225.84 69.49,225.84"/><polygon points="71.57,224.02 69.17,228.34 73.97,228.34"/><polygon points="76.06,224.02 73.66,228.34 78.46,228.34"/><polygon points="80.55,223.82 78.15,228.14 82.95,228.14"/><polygon points="85.03,221.82 82.63,226.14 87.43,226.14"/><polygon points="89.52,224.42 87.12,228.74 91.92,228.74"/><polygon points="94,224.82 91.6,229.14 96.4,229.14"/><polygon points="98.49,221.52 96.09,225.84 100.89,225.84"/><polygon points="102.98,222.72 100.58,227.04 105.38,227.04"/><polygon points="107.46,225.02 105.06,229.34 109.86,229.34"/><polygon points="111.95,228.02 109.55,232.34 114.35,232.34"/><polygon points="116.43,224.22 114.03,228.54 118.83,228.54"/><polygon points="120.92,221.22 118.52,225.54 123.32,225.54"/><polygon points="125.41,216.02 123.01,220.34 127.81,220.34"/><polygon points="129.89,206.32 127.49,210.64 132.29,210.64"/><polygon points="134.38,209.02 131.98,213.34 136.78,213.34"/><polygon points="138.86,215.22 136.46,219.54 141.26,219.54"/><polygon points="143.35,219.02 140.95,223.34 145.75,223.34"/><polygon points="147.84,222.72 145.44,227.04 150.24,227.04"/><polygon points="152.32,225.42 149.92,229.74 154.72,229.74"/><polygon points="156.81,223.92 154.41,228.24 159.21,228.24"/><polygon points="161.29,223.52 158.89,227.84 163.69,227.84"/><polygon points="165.78,225.22 163.38,229.54 168.18,229.54"/><polygon points="170.27,226.12 167.87,230.44 172.67,230.44"/><polygon points="174.75,230.02 172.35,234.34 177.15,234.34"/><polygon points="179.24,227.02 176.84,231.34 181.64,231.34"/><polygon points="183.72,226.42 181.32,230.74 186.12,230.74"/><polygon points="188.21,224.12 185.81,228.44 190.61,228.44"/><polygon points="192.7,225.42 190.3,229.74 195.1,229.74"/><polygon points="197.18,223.62 194.78,227.94 199.58,227.94"/><polygon points="201.67,222.82 199.27,227.14 204.07,227.14"/><polygon points="206.15,226.42 203.75,230.74 208.55,230.74"/><polygon points="210.64,225.42 208.24,229.74 213.04,229.74"/><polygon points="215.13,226.62 212.73,230.94 217.53,230.94"/><polygon points="219.61,226.62 217.21,230.94 222.01,230.94"/><polygon points="224.1,223.82 221.7,228.14 226.5,228.14"/><polygon points="228.58,226.82 226.18,231.14 230.98,231.14"/></g>
<polyline points="31.2,211.9 35.69,209.4 40.17,212.4 44.66,215.4 49.14,215.7 53.63,216 58.12,214.7 62.6,210.3 67.09,207.1 71.57,209.6 76.06,209.4 80.55,209.9 85.03,207.7 89.52,211.5 94,210.9 98.49,207.3 102.98,208.4 107.46,212.2 111.95,217 116.43,213.5 120.92,212.8 125.41,211.5 129.89,207.1 134.38,205.2 138.86,205.8 143.35,207.7 147.84,210.7 152.32,214.1 156.81,211.2 161.29,210.7 165.78,212.5 170.27,213.2 174.75,217.9 179.24,214.3 183.72,213.5 188.21,210.7 192.7,212.6 197.18,209.9 201.67,208.6 206.15,214.1 210.64,212.2 215.13,213.7 219.61,213.5 224.1,210.7 228.58,214.5" stroke="#5B9BD5" stroke-width="1.3" fill="none" stroke-linejoin="round"/>
<g fill="#5B9BD5"><circle cx="31.2" cy="211.9" r="2.1"/><circle cx="35.69" cy="209.4" r="2.1"/><circle cx="40.17" cy="212.4" r="2.1"/><circle cx="44.66" cy="215.4" r="2.1"/><circle cx="49.14" cy="215.7" r="2.1"/><circle cx="53.63" cy="216" r="2.1"/><circle cx="58.12" cy="214.7" r="2.1"/><circle cx="62.6" cy="210.3" r="2.1"/><circle cx="67.09" cy="207.1" r="2.1"/><circle cx="71.57" cy="209.6" r="2.1"/><circle cx="76.06" cy="209.4" r="2.1"/><circle cx="80.55" cy="209.9" r="2.1"/><circle cx="85.03" cy="207.7" r="2.1"/><circle cx="89.52" cy="211.5" r="2.1"/><circle cx="94" cy="210.9" r="2.1"/><circle cx="98.49" cy="207.3" r="2.1"/><circle cx="102.98" cy="208.4" r="2.1"/><circle cx="107.46" cy="212.2" r="2.1"/><circle cx="111.95" cy="217" r="2.1"/><circle cx="116.43" cy="213.5" r="2.1"/><circle cx="120.92" cy="212.8" r="2.1"/><circle cx="125.41" cy="211.5" r="2.1"/><circle cx="129.89" cy="207.1" r="2.1"/><circle cx="134.38" cy="205.2" r="2.1"/><circle cx="138.86" cy="205.8" r="2.1"/><circle cx="143.35" cy="207.7" r="2.1"/><circle cx="147.84" cy="210.7" r="2.1"/><circle cx="152.32" cy="214.1" r="2.1"/><circle cx="156.81" cy="211.2" r="2.1"/><circle cx="161.29" cy="210.7" r="2.1"/><circle cx="165.78" cy="212.5" r="2.1"/><circle cx="170.27" cy="213.2" r="2.1"/><circle cx="174.75" cy="217.9" r="2.1"/><circle cx="179.24" cy="214.3" r="2.1"/><circle cx="183.72" cy="213.5" r="2.1"/><circle cx="188.21" cy="210.7" r="2.1"/><circle cx="192.7" cy="212.6" r="2.1"/><circle cx="197.18" cy="209.9" r="2.1"/><circle cx="201.67" cy="208.6" r="2.1"/><circle cx="206.15" cy="214.1" r="2.1"/><circle cx="210.64" cy="212.2" r="2.1"/><circle cx="215.13" cy="213.7" r="2.1"/><circle cx="219.61" cy="213.5" r="2.1"/><circle cx="224.1" cy="210.7" r="2.1"/><circle cx="228.58" cy="214.5" r="2.1"/></g>
</g>
<clipPath id="c3"><rect x="304.2" y="185.9" width="199.3" height="98.4"/></clipPath>
<path d="M307.2,265.23H503.5M307.2,250.17H503.5M307.2,235.1H503.5M307.2,220.03H503.5M307.2,204.97H503.5M307.2,189.9H503.5M307.2,189.9V280.3M339.92,189.9V280.3M372.63,189.9V280.3M405.35,189.9V280.3M438.07,189.9V280.3M470.78,189.9V280.3M503.5,189.9V280.3" stroke="#DFDFDF" stroke-width="1" fill="none"/>
<path d="M307.2,280.3H503.5" stroke="#DFDFDF" stroke-width="1" fill="none"/>
<path d="M503.5,189.9h2.3M503.5,199.94h2.3M503.5,209.99h2.3M503.5,220.03h2.3M503.5,230.08h2.3M503.5,240.12h2.3M503.5,250.17h2.3M503.5,260.21h2.3M503.5,270.26h2.3M503.5,280.3h2.3" stroke="#BFBFBF" stroke-width="0.8" fill="none"/>
<g font-family="'Liberation Serif', 'DejaVu Serif', serif" font-size="7.1" fill="#595959" stroke="#595959" stroke-width="0.2">
<text x="300.4" y="282.4" text-anchor="end" textLength="3.3" lengthAdjust="spacingAndGlyphs">0</text>
<text x="300.4" y="267.33" text-anchor="end" textLength="3.3" lengthAdjust="spacingAndGlyphs">2</text>
<text x="300.4" y="252.27" text-anchor="end" textLength="3.3" lengthAdjust="spacingAndGlyphs">4</text>
<text x="300.4" y="237.2" text-anchor="end" textLength="3.3" lengthAdjust="spacingAndGlyphs">6</text>
<text x="300.4" y="222.13" text-anchor="end" textLength="3.3" lengthAdjust="spacingAndGlyphs">8</text>
<text x="300.4" y="207.07" text-anchor="end" textLength="6.6" lengthAdjust="spacingAndGlyphs">10</text>
<text x="300.4" y="192" text-anchor="end" textLength="6.6" lengthAdjust="spacingAndGlyphs">12</text>
<text x="510.3" y="191.9" textLength="6.6" lengthAdjust="spacingAndGlyphs">80</text>
<text x="510.3" y="201.94" textLength="6.6" lengthAdjust="spacingAndGlyphs">70</text>
<text x="510.3" y="211.99" textLength="6.6" lengthAdjust="spacingAndGlyphs">60</text>
<text x="510.3" y="222.03" textLength="6.6" lengthAdjust="spacingAndGlyphs">50</text>
<text x="510.3" y="232.08" textLength="6.6" lengthAdjust="spacingAndGlyphs">40</text>
<text x="510.3" y="242.12" textLength="6.6" lengthAdjust="spacingAndGlyphs">30</text>
<text x="510.3" y="252.17" textLength="6.6" lengthAdjust="spacingAndGlyphs">20</text>
<text x="510.3" y="262.21" textLength="6.6" lengthAdjust="spacingAndGlyphs">10</text>
<text x="510.3" y="272.26" textLength="3.3" lengthAdjust="spacingAndGlyphs">0</text>
<text x="510.3" y="282.3" textLength="9.2" lengthAdjust="spacingAndGlyphs">-10</text>
<text x="307.2" y="292.5" text-anchor="middle" textLength="3.3" lengthAdjust="spacingAndGlyphs">0</text>
<text x="339.92" y="292.5" text-anchor="middle" textLength="3.3" lengthAdjust="spacingAndGlyphs">5</text>
<text x="372.63" y="292.5" text-anchor="middle" textLength="6.6" lengthAdjust="spacingAndGlyphs">10</text>
<text x="405.35" y="292.5" text-anchor="middle" textLength="6.6" lengthAdjust="spacingAndGlyphs">15</text>
<text x="438.07" y="292.5" text-anchor="middle" textLength="6.6" lengthAdjust="spacingAndGlyphs">20</text>
<text x="470.78" y="292.5" text-anchor="middle" textLength="6.6" lengthAdjust="spacingAndGlyphs">25</text>
<text x="503.5" y="292.5" text-anchor="middle" textLength="6.6" lengthAdjust="spacingAndGlyphs">30</text>
</g>
<g font-family="'Liberation Serif', 'DejaVu Serif', serif" font-size="8.1" fill="#595959" stroke="#595959" stroke-width="0.28">
<text x="405.7" y="304.4" text-anchor="middle">Position</text>
<text transform="translate(286.5,235.1) rotate(-90)" x="-14.3" y="3.0" font-size="7.6" textLength="27.6" lengthAdjust="spacingAndGlyphs">SD [HU]</text>
<text transform="translate(528,235.1) rotate(-90)" x="0" y="2.8" text-anchor="middle">HU</text>
</g>
<text x="387.2" y="177.6" font-family="'Liberation Serif', 'DejaVu Serif', serif" font-size="11.2" fill="#595959" stroke="#595959" stroke-width="0.25" textLength="38.8" lengthAdjust="spacingAndGlyphs">Siemens</text>
<g clip-path="url(#c3)">
<path d="M307.2,198.8C307.96,198.77 310.24,198.7 311.76,198.6C313.28,198.5 314.8,198.25 316.33,198.2C317.85,198.15 319.37,198.3 320.89,198.3C322.41,198.3 323.93,198.32 325.45,198.2C326.97,198.08 328.49,197.65 330.01,197.6C331.54,197.55 333.06,197.73 334.58,197.9C336.1,198.07 337.62,198.32 339.14,198.6C340.66,198.88 342.18,199.35 343.7,199.6C345.23,199.85 346.75,200.02 348.27,200.1C349.79,200.18 351.31,200.28 352.83,200.1C354.35,199.92 355.87,199.3 357.39,199C358.91,198.7 360.44,198.33 361.96,198.3C363.48,198.27 365,198.65 366.52,198.8C368.04,198.95 369.56,199.12 371.08,199.2C372.6,199.28 374.12,199.37 375.64,199.3C377.17,199.23 378.69,199.02 380.21,198.8C381.73,198.58 383.25,198.2 384.77,198C386.29,197.8 387.81,197.5 389.33,197.6C390.86,197.7 392.38,197.45 393.9,198.6C395.42,199.75 396.94,200.43 398.46,204.5C399.98,208.57 401.5,216.75 403.02,223C404.54,229.25 406.06,236.25 407.59,242C409.11,247.75 410.63,253.67 412.15,257.5C413.67,261.33 415.19,263.35 416.71,265C418.23,266.65 419.75,267.02 421.27,267.4C422.8,267.78 424.32,267.37 425.84,267.3C427.36,267.23 428.88,267.08 430.4,267C431.92,266.92 433.44,266.83 434.96,266.8C436.49,266.77 438.01,266.78 439.53,266.8C441.05,266.82 442.57,266.87 444.09,266.9C445.61,266.93 447.13,266.95 448.65,267C450.17,267.05 451.69,267.2 453.22,267.2C454.74,267.2 456.26,267.07 457.78,267C459.3,266.93 460.82,266.85 462.34,266.8C463.86,266.75 465.38,266.68 466.9,266.7C468.43,266.72 469.95,266.8 471.47,266.9C472.99,267 474.51,267.15 476.03,267.3C477.55,267.45 479.07,267.67 480.59,267.8C482.11,267.93 483.64,268.13 485.16,268.1C486.68,268.07 488.2,267.73 489.72,267.6C491.24,267.47 492.76,267.33 494.28,267.3C495.8,267.27 497.32,267.38 498.85,267.4C500.37,267.42 502.65,267.4 503.41,267.4" stroke="#FFC000" stroke-width="1.4" fill="none" stroke-dasharray="4.6 2.9"/>
<polyline points="307.2,253.6 311.76,254.9 316.33,256.2 320.89,257.5 325.45,258.5 330.01,258.7 334.58,258.5 339.14,258.5 343.7,258.7 348.27,258.5 352.83,254.9 357.39,254.3 361.96,255.9 366.52,258.1 371.08,257.7 375.64,256.8 380.21,257.7 384.77,257.7 389.33,257.7 393.9,255.5 398.46,252.1 403.02,246.6 407.59,240.9 412.15,247.9 416.71,252.4 421.27,254.9 425.84,257.5 430.4,258.5 434.96,258.7 439.53,259.4 444.09,258.5 448.65,257.5 453.22,256.8 457.78,256.8 462.34,257.5 466.9,257.2 471.47,255.2 476.03,255.2 480.59,255.5 485.16,257.5 489.72,258.1 494.28,257.7 498.85,256.4 503.41,256.2" stroke="#A5A5A5" stroke-width="1.3" fill="none" stroke-linejoin="round"/>
<g fill="#A5A5A5"><polygon points="307.2,251.4 309.4,253.6 307.2,255.8 305,253.6"/><polygon points="311.76,252.7 313.96,254.9 311.76,257.1 309.56,254.9"/><polygon points="316.33,254 318.53,256.2 316.33,258.4 314.13,256.2"/><polygon points="320.89,255.3 323.09,257.5 320.89,259.7 318.69,257.5"/><polygon points="325.45,256.3 327.65,258.5 325.45,260.7 323.25,258.5"/><polygon points="330.01,256.5 332.21,258.7 330.01,260.9 327.81,258.7"/><polygon points="334.58,256.3 336.78,258.5 334.58,260.7 332.38,258.5"/><polygon points="339.14,256.3 341.34,258.5 339.14,260.7 336.94,258.5"/><polygon points="343.7,256.5 345.9,258.7 343.7,260.9 341.5,258.7"/><polygon points="348.27,256.3 350.47,258.5 348.27,260.7 346.07,258.5"/><polygon points="352.83,252.7 355.03,254.9 352.83,257.1 350.63,254.9"/><polygon points="357.39,252.1 359.59,254.3 357.39,256.5 355.19,254.3"/><polygon points="361.96,253.7 364.16,255.9 361.96,258.1 359.76,255.9"/><polygon points="366.52,255.9 368.72,258.1 366.52,260.3 364.32,258.1"/><polygon points="371.08,255.5 373.28,257.7 371.08,259.9 368.88,257.7"/><polygon points="375.64,254.6 377.84,256.8 375.64,259 373.44,256.8"/><polygon points="380.21,255.5 382.41,257.7 380.21,259.9 378.01,257.7"/><polygon points="384.77,255.5 386.97,257.7 384.77,259.9 382.57,257.7"/><polygon points="389.33,255.5 391.53,257.7 389.33,259.9 387.13,257.7"/><polygon points="393.9,253.3 396.1,255.5 393.9,257.7 391.7,255.5"/><polygon points="398.46,249.9 400.66,252.1 398.46,254.3 396.26,252.1"/><polygon points="403.02,244.4 405.22,246.6 403.02,248.8 400.82,246.6"/><polygon points="407.59,238.7 409.79,240.9 407.59,243.1 405.39,240.9"/><polygon points="412.15,245.7 414.35,247.9 412.15,250.1 409.95,247.9"/><polygon points="416.71,250.2 418.91,252.4 416.71,254.6 414.51,252.4"/><polygon points="421.27,252.7 423.47,254.9 421.27,257.1 419.07,254.9"/><polygon points="425.84,255.3 428.04,257.5 425.84,259.7 423.64,257.5"/><polygon points="430.4,256.3 432.6,258.5 430.4,260.7 428.2,258.5"/><polygon points="434.96,256.5 437.16,258.7 434.96,260.9 432.76,258.7"/><polygon points="439.53,257.2 441.73,259.4 439.53,261.6 437.33,259.4"/><polygon points="444.09,256.3 446.29,258.5 444.09,260.7 441.89,258.5"/><polygon points="448.65,255.3 450.85,257.5 448.65,259.7 446.45,257.5"/><polygon points="453.22,254.6 455.42,256.8 453.22,259 451.02,256.8"/><polygon points="457.78,254.6 459.98,256.8 457.78,259 455.58,256.8"/><polygon points="462.34,255.3 464.54,257.5 462.34,259.7 460.14,257.5"/><polygon points="466.9,255 469.1,257.2 466.9,259.4 464.7,257.2"/><polygon points="471.47,253 473.67,255.2 471.47,257.4 469.27,255.2"/><polygon points="476.03,253 478.23,255.2 476.03,257.4 473.83,255.2"/><polygon points="480.59,253.3 482.79,255.5 480.59,257.7 478.39,255.5"/><polygon points="485.16,255.3 487.36,257.5 485.16,259.7 482.96,257.5"/><polygon points="489.72,255.9 491.92,258.1 489.72,260.3 487.52,258.1"/><polygon points="494.28,255.5 496.48,257.7 494.28,259.9 492.08,257.7"/><polygon points="498.85,254.2 501.05,256.4 498.85,258.6 496.65,256.4"/><polygon points="503.41,254 505.61,256.2 503.41,258.4 501.21,256.2"/></g>
<polyline points="307.2,244.1 311.76,242.4 316.33,244.5 320.89,246.3 325.45,248.3 330.01,248.3 334.58,247.9 339.14,247.3 343.7,248.3 348.27,248.8 352.83,242.8 357.39,242.2 361.96,245 366.52,248.5 371.08,247.9 375.64,247 380.21,248.5 384.77,247 389.33,247.3 393.9,245.7 398.46,244.1 403.02,241.2 407.59,237.1 412.15,241.5 416.71,244.7 421.27,244.7 425.84,247.9 430.4,248.3 434.96,247.9 439.53,249.6 444.09,248.5 448.65,245.4 453.22,245 457.78,245.4 462.34,247 466.9,247.3 471.47,241.9 476.03,243.2 480.59,243.5 485.16,247 489.72,247.9 494.28,247.3 498.85,245.4 503.41,245.4" stroke="#ED7D31" stroke-width="1.3" fill="none" stroke-linejoin="round"/>
<g fill="#ED7D31"><polygon points="307.2,241.42 304.8,245.74 309.6,245.74"/><polygon points="311.76,239.72 309.36,244.04 314.16,244.04"/><polygon points="316.33,241.82 313.93,246.14 318.73,246.14"/><polygon points="320.89,243.62 318.49,247.94 323.29,247.94"/><polygon points="325.45,245.62 323.05,249.94 327.85,249.94"/><polygon points="330.01,245.62 327.62,249.94 332.41,249.94"/><polygon points="334.58,245.22 332.18,249.54 336.98,249.54"/><polygon points="339.14,244.62 336.74,248.94 341.54,248.94"/><polygon points="343.7,245.62 341.3,249.94 346.1,249.94"/><polygon points="348.27,246.12 345.87,250.44 350.67,250.44"/><polygon points="352.83,240.12 350.43,244.44 355.23,244.44"/><polygon points="357.39,239.52 354.99,243.84 359.79,243.84"/><polygon points="361.96,242.32 359.56,246.64 364.36,246.64"/><polygon points="366.52,245.82 364.12,250.14 368.92,250.14"/><polygon points="371.08,245.22 368.68,249.54 373.48,249.54"/><polygon points="375.64,244.32 373.25,248.64 378.04,248.64"/><polygon points="380.21,245.82 377.81,250.14 382.61,250.14"/><polygon points="384.77,244.32 382.37,248.64 387.17,248.64"/><polygon points="389.33,244.62 386.93,248.94 391.73,248.94"/><polygon points="393.9,243.02 391.5,247.34 396.3,247.34"/><polygon points="398.46,241.42 396.06,245.74 400.86,245.74"/><polygon points="403.02,238.52 400.62,242.84 405.42,242.84"/><polygon points="407.59,234.42 405.19,238.74 409.99,238.74"/><polygon points="412.15,238.82 409.75,243.14 414.55,243.14"/><polygon points="416.71,242.02 414.31,246.34 419.11,246.34"/><polygon points="421.27,242.02 418.88,246.34 423.67,246.34"/><polygon points="425.84,245.22 423.44,249.54 428.24,249.54"/><polygon points="430.4,245.62 428,249.94 432.8,249.94"/><polygon points="434.96,245.22 432.56,249.54 437.36,249.54"/><polygon points="439.53,246.92 437.13,251.24 441.93,251.24"/><polygon points="444.09,245.82 441.69,250.14 446.49,250.14"/><polygon points="448.65,242.72 446.25,247.04 451.05,247.04"/><polygon points="453.22,242.32 450.82,246.64 455.62,246.64"/><polygon points="457.78,242.72 455.38,247.04 460.18,247.04"/><polygon points="462.34,244.32 459.94,248.64 464.74,248.64"/><polygon points="466.9,244.62 464.5,248.94 469.3,248.94"/><polygon points="471.47,239.22 469.07,243.54 473.87,243.54"/><polygon points="476.03,240.52 473.63,244.84 478.43,244.84"/><polygon points="480.59,240.82 478.19,245.14 482.99,245.14"/><polygon points="485.16,244.32 482.76,248.64 487.56,248.64"/><polygon points="489.72,245.22 487.32,249.54 492.12,249.54"/><polygon points="494.28,244.62 491.88,248.94 496.68,248.94"/><polygon points="498.85,242.72 496.45,247.04 501.25,247.04"/><polygon points="503.41,242.72 501.01,247.04 505.81,247.04"/></g>
<polyline points="307.2,230.3 311.76,227.2 316.33,229.2 320.89,231 325.45,233.5 330.01,234.3 334.58,233 339.14,232 343.7,233 348.27,234.8 352.83,227.2 357.39,227.2 361.96,230.7 366.52,234.5 371.08,234.8 375.64,233 380.21,234.3 384.77,231.4 389.33,232.3 393.9,231.7 398.46,232 403.02,231.7 407.59,229.5 412.15,230.7 416.71,233 421.27,230.3 425.84,233.9 430.4,233.3 434.96,232.6 439.53,235.2 444.09,233.3 448.65,230.1 453.22,229.7 457.78,229.7 462.34,231.4 466.9,232 471.47,225.9 476.03,227.5 480.59,227.2 485.16,231.4 489.72,233.3 494.28,232.6 498.85,229.7 503.41,229.7" stroke="#5B9BD5" stroke-width="1.3" fill="none" stroke-linejoin="round"/>
<g fill="#5B9BD5"><circle cx="307.2" cy="230.3" r="2.1"/><circle cx="311.76" cy="227.2" r="2.1"/><circle cx="316.33" cy="229.2" r="2.1"/><circle cx="320.89" cy="231" r="2.1"/><circle cx="325.45" cy="233.5" r="2.1"/><circle cx="330.01" cy="234.3" r="2.1"/><circle cx="334.58" cy="233" r="2.1"/><circle cx="339.14" cy="232" r="2.1"/><circle cx="343.7" cy="233" r="2.1"/><circle cx="348.27" cy="234.8" r="2.1"/><circle cx="352.83" cy="227.2" r="2.1"/><circle cx="357.39" cy="227.2" r="2.1"/><circle cx="361.96" cy="230.7" r="2.1"/><circle cx="366.52" cy="234.5" r="2.1"/><circle cx="371.08" cy="234.8" r="2.1"/><circle cx="375.64" cy="233" r="2.1"/><circle cx="380.21" cy="234.3" r="2.1"/><circle cx="384.77" cy="231.4" r="2.1"/><circle cx="389.33" cy="232.3" r="2.1"/><circle cx="393.9" cy="231.7" r="2.1"/><circle cx="398.46" cy="232" r="2.1"/><circle cx="403.02" cy="231.7" r="2.1"/><circle cx="407.59" cy="229.5" r="2.1"/><circle cx="412.15" cy="230.7" r="2.1"/><circle cx="416.71" cy="233" r="2.1"/><circle cx="421.27" cy="230.3" r="2.1"/><circle cx="425.84" cy="233.9" r="2.1"/><circle cx="430.4" cy="233.3" r="2.1"/><circle cx="434.96" cy="232.6" r="2.1"/><circle cx="439.53" cy="235.2" r="2.1"/><circle cx="444.09" cy="233.3" r="2.1"/><circle cx="448.65" cy="230.1" r="2.1"/><circle cx="453.22" cy="229.7" r="2.1"/><circle cx="457.78" cy="229.7" r="2.1"/><circle cx="462.34" cy="231.4" r="2.1"/><circle cx="466.9" cy="232" r="2.1"/><circle cx="471.47" cy="225.9" r="2.1"/><circle cx="476.03" cy="227.5" r="2.1"/><circle cx="480.59" cy="227.2" r="2.1"/><circle cx="485.16" cy="231.4" r="2.1"/><circle cx="489.72" cy="233.3" r="2.1"/><circle cx="494.28" cy="232.6" r="2.1"/><circle cx="498.85" cy="229.7" r="2.1"/><circle cx="503.41" cy="229.7" r="2.1"/></g>
</g>
<path d="M150.5,325H170.5" stroke="#5B9BD5" stroke-width="1.5"/>
<circle cx="160.5" cy="325" r="2.2" fill="#5B9BD5"/>
<path d="M195.9,325H215.9" stroke="#ED7D31" stroke-width="1.5"/>
<polygon points="205.9,322.21 203.4,326.71 208.4,326.71" fill="#ED7D31"/>
<path d="M267.3,325H287.6" stroke="#A5A5A5" stroke-width="1.5"/>
<polygon points="277.5,322.7 279.8,325 277.5,327.3 275.2,325" fill="#A5A5A5"/>
<path d="M326.0,325H347" stroke="#FFC000" stroke-width="1.5" stroke-dasharray="5.5 3.4"/>
<g font-family="'Liberation Serif', 'DejaVu Serif', serif" font-size="8.4" fill="#595959" stroke="#595959" stroke-width="0.28">
<text x="173.2" y="327.3">FBP</text>
<text x="218.6" y="327.3">Medium IR</text>
<text x="289.5" y="327.3">High IR</text>
<text x="348.5" y="327.3">CT number</text>
</g>
</svg>
</body></html>
